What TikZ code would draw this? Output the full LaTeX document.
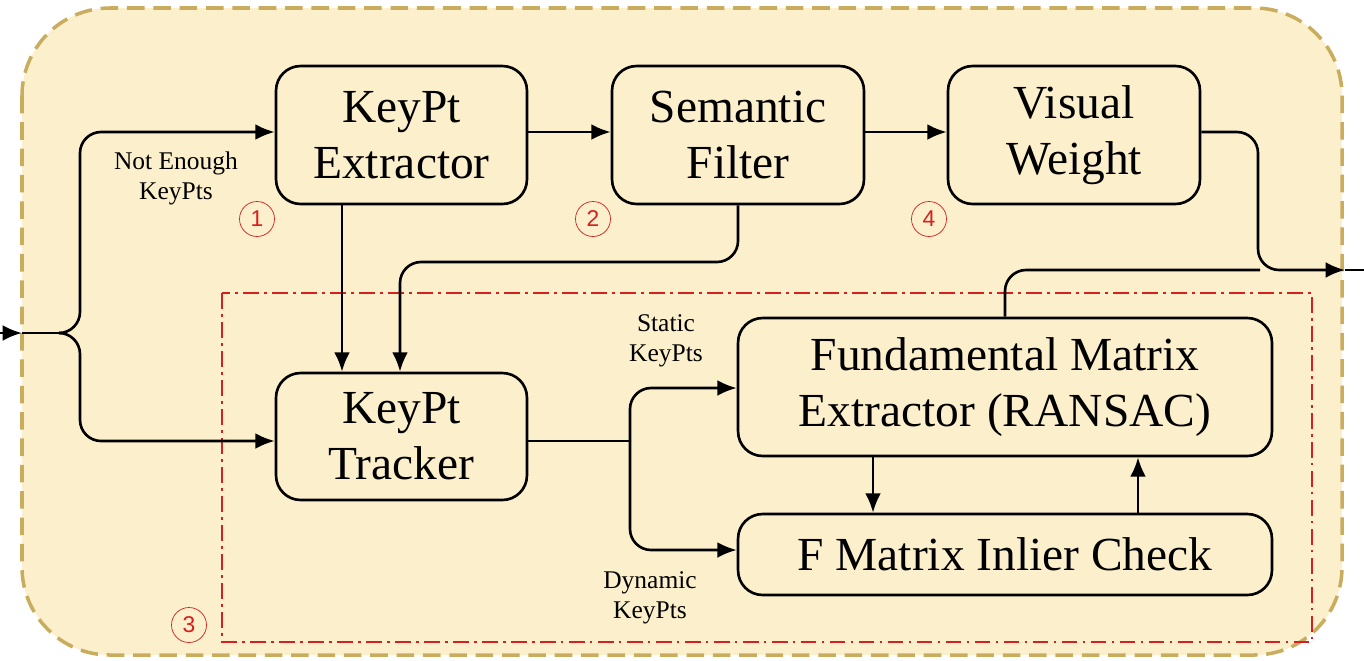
\documentclass[tikz,border=0pt]{standalone}
\usepackage{fontspec}
\setmainfont{Liberation Serif}
\newfontfamily\numfont{Liberation Sans}
\usetikzlibrary{positioning,arrows.meta}
\definecolor{bgfill}{HTML}{FCF0CC}
\definecolor{bgline}{HTML}{C9AC5E}
\definecolor{numred}{HTML}{D42020}
\tikzset{
  blk/.style={draw, line width=1.5pt, rounded corners=14pt, fill=bgfill, align=center,
    font=\fontsize{27}{32}\selectfont, inner sep=0pt},
  lbl/.style={font=\fontsize{14.5}{17}\selectfont, align=center},
  num/.style={circle, draw=numred, text=numred, minimum size=0.7cm, inner sep=0pt,
    font=\numfont\fontsize{13}{13}\selectfont},
  flow/.style={line width=1.5pt, -{Latex[length=11pt,width=9pt]}, rounded corners=12pt}
}
\begin{document}
\begin{tikzpicture}[x=0.02cm,y=-0.02cm]
    \useasboundingbox (0,0) rectangle (1364,660);
    % background
    \draw[bgline, fill=bgfill, line width=2pt, dash pattern=on 10pt off 5pt, rounded corners=50pt]
        (22,8) rectangle (1342,655);
    \draw[numred, line width=1pt, dash pattern=on 9pt off 3pt on 1.5pt off 3pt]
        (222,293) rectangle (1312,642);

    % blocks
    \node[blk, minimum width=5.02cm, minimum height=2.76cm] (extr) at (401.5,135) {KeyPt\\Extractor};
    \node[blk, minimum width=5.04cm, minimum height=2.76cm] (sem) at (738,135) {Semantic\\Filter};
    \node[blk, minimum width=5.04cm, minimum height=2.76cm] (vis) at (1074,135) {Visual\\Weight};
    \node[blk, minimum width=5.02cm, minimum height=2.54cm] (trk) at (401.5,436.5) {KeyPt\\Tracker};
    \node[blk, minimum width=10.68cm, minimum height=2.76cm] (fund) at (1005,387) {Fundamental Matrix\\Extractor (RANSAC)};
    \node[blk, minimum width=10.68cm, minimum height=1.62cm] (inl) at (1005,554.5) {F Matrix Inlier Check};

    % numbers
    \node[num] (n1) at (257,219) {1};
    \node[num] (n2) at (593,219) {2};
    \node[num] (n4) at (929,219) {4};
    \node[num] (n3) at (189,625) {3};

    % labels
    \node[lbl] (lne) at (176,178) {Not Enough\\KeyPts};
    \node[lbl] (lst) at (666,341) {Static\\KeyPts};
    \node[lbl] (ldy) at (650,598) {Dynamic\\KeyPts};

    % helper points
    \coordinate (in) at (0,333);
    \coordinate (split) at (60,333);
    \coordinate (fork) at (630,441);
    \coordinate (out) at (1345,270);
    \coordinate (outend) at (1364,270);

    % connectors
    \draw[line width=1.5pt, -{Latex[length=11pt,width=9pt]}] (in) -- (22,333);
    \draw[line width=1.5pt] (22,333) -- (split);
    \draw[flow] (split) -- (80,333) -- (80,132) -- (extr.west |- 0,132);
    \draw[flow] (split) -- (80,333) -- (80,441) -- (trk.west |- 0,441);
    \draw[flow] (extr.east |- 0,132) -- (sem.west |- 0,132);
    \draw[flow] (sem.east |- 0,132) -- (vis.west |- 0,132);
    \draw[flow] (vis.east |- 0,132) -- (1258,132) -- (1258,270) -- (out);
    \draw[line width=1.5pt] (out) -- (outend);
    \draw[line width=1.5pt, rounded corners=12pt] (fund.north -| 1005,0) -- (1005,270) -- (1260,270);
    \draw[flow] (extr.south -| 342,0) -- (trk.north -| 342,0);
    \draw[flow] (sem.south) -- (738,262) -- (400,262) -- (trk.north -| 400,0);
    \draw[line width=1.5pt] (trk.east |- 0,441) -- (fork);
    \draw[flow] (fork) -- (630,388) -- (fund.west |- 0,388);
    \draw[flow] (fork) -- (630,550) -- (inl.west |- 0,550);
    \draw[flow] (fund.south -| 873,0) -- (inl.north -| 873,0);
    \draw[flow] (inl.north -| 1138,0) -- (fund.south -| 1138,0);
\end{tikzpicture}
\end{document}
